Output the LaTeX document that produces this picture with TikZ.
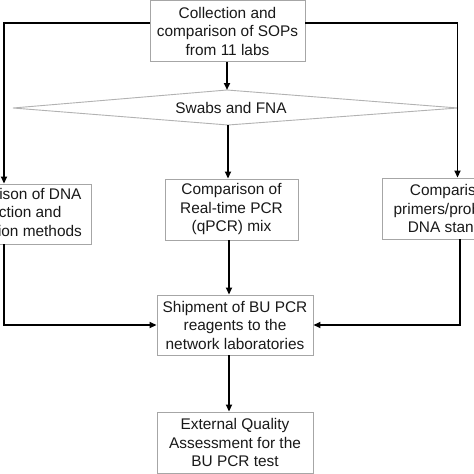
\documentclass[tikz,border=0pt]{standalone}
\usepackage{fontspec}
\setmainfont{Liberation Sans}
\usetikzlibrary{arrows.meta,calc}
\tikzset{
  box/.style={draw=gray!70, line width=0.9pt, fill=white, inner sep=0pt, align=center,
    font=\fontsize{15.4}{18.5}\selectfont, text=black!90},
  arr/.style={line width=1.8pt, -{Triangle[length=7pt,width=6pt]}},
  diam/.style={draw=gray!60, line width=0.9pt}
}
\begin{document}
\begin{tikzpicture}[x=1pt,y=-1pt]
\clip (0,0) rectangle (474,474);
\fill[white] (0,0) rectangle (474,474);
% coordinates
\coordinate (hl) at (4,23);
\coordinate (hr) at (457.5,23);
\coordinate (bl) at (4,325);
\coordinate (br) at (460,325);
\coordinate (dl) at (13,108);
\coordinate (dt) at (227,90);
\coordinate (dr) at (458,108);
\coordinate (db) at (228,125);
% diamond
\draw[diam] (dl) -- (dt) -- (dr) -- (db) -- cycle;
\node[box, draw=none, fill=none] (swab) at (231,108) {Swabs and FNA};
% boxes
\node[box, minimum width=155pt, minimum height=61pt] (top) at (227.5,31) {Collection and\\comparison of SOPs\\from 11 labs};
\node[box, minimum width=156pt, minimum height=60pt] (left) at (13,214) {Comparison of DNA\\extraction and\\purification methods};
\node[box, minimum width=133pt, minimum height=61pt] (mid) at (231.5,209.5) {Comparison of\\Real-time PCR\\(qPCR) mix};
\node[box, minimum width=156pt, minimum height=61pt] (right) at (460,208.5) {Comparison of\\primers/probes and\\DNA standards};
\node[box, minimum width=156pt, minimum height=60pt] (ship) at (235,325) {Shipment of BU PCR\\reagents to the\\network laboratories};
\node[box, minimum width=156pt, minimum height=61pt] (eqa) at (235,442.5) {External Quality\\Assessment for the\\BU PCR test};
% connectors
\draw[arr] (top.south -| dt) -- (dt);
\draw[arr] (db) -- (db |- mid.north);
\draw[arr] ([xshift=-2.5pt]mid.south) -- ([xshift=-2.5pt]mid.south |- ship.north);
\draw[arr] ([xshift=-6pt]ship.south) -- ([xshift=-6pt]ship.south |- eqa.north);
\draw[arr] (top.west |- hl) -- (hl) -- (hl |- left.north);
\draw[arr] (top.east |- hr) -- (hr) -- (hr |- right.north);
\draw[arr] (bl |- left.south) -- (bl) -- (ship.west);
\draw[arr] (br |- right.south) -- (br) -- (ship.east);
\end{tikzpicture}
\end{document}
